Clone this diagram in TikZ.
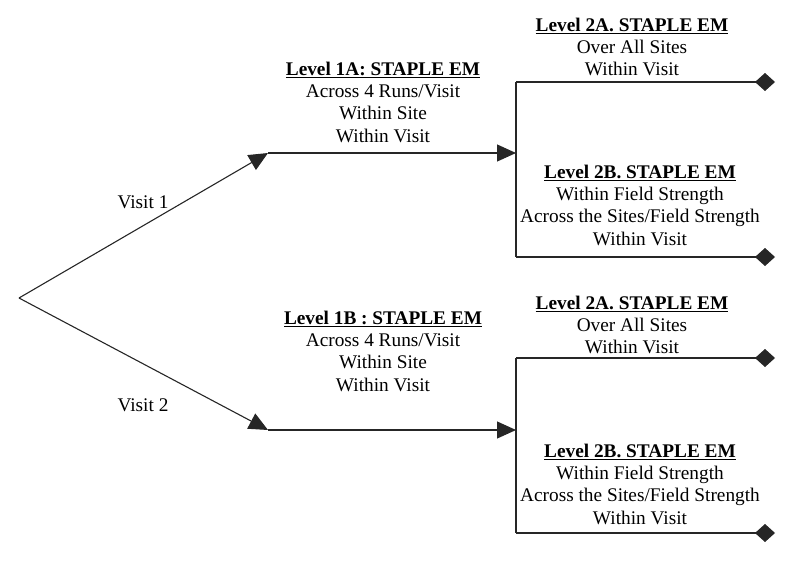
\documentclass[tikz,border=0pt]{standalone}
\usepackage{fontspec}
\setmainfont{Liberation Serif}
\usetikzlibrary{arrows.meta}
\begin{document}
\begin{tikzpicture}[x=1pt,y=1pt,
  conn/.style={line width=1.1pt,draw=black!85},
  tri/.style={conn,-{Triangle[length=19pt,width=17pt]}},
  dia/.style={conn,-{Diamond[length=20pt,width=18pt]}},
  lbl/.style={inner sep=0pt,align=center,font=\fontsize{19.3}{22.3}\selectfont},
  vlbl/.style={inner sep=0pt,font=\fontsize{19.3}{22.3}\selectfont}]
\useasboundingbox (0,0) rectangle (801,-565);
% coordinates
\coordinate (root) at (19,-298);
\coordinate (v1) at (268,-153);
\coordinate (v2) at (268,-430);
\coordinate (j1) at (516,-153);
\coordinate (j2) at (516,-430);
\coordinate (j1t) at (516,-82);
\coordinate (j1b) at (516,-257);
\coordinate (j2t) at (516,-358);
\coordinate (j2b) at (516,-533);
\coordinate (d1a) at (775,-82);
\coordinate (d1b) at (775,-257);
\coordinate (d2a) at (775,-358);
\coordinate (d2b) at (775,-533);
% connectors
\draw[tri] (root) -- (v1);
\draw[tri] (root) -- (v2);
\draw[tri] (v1) -- (j1);
\draw[tri] (v2) -- (j2);
\draw[conn] (j1t) -- (j1b);
\draw[conn] (j2t) -- (j2b);
\draw[dia] (j1t) -- (d1a);
\draw[dia] (j1b) -- (d1b);
\draw[dia] (j2t) -- (d2a);
\draw[dia] (j2b) -- (d2b);
% labels
\node[vlbl] (visit1) at (143,-202) {Visit 1};
\node[vlbl] (visit2) at (143,-405) {Visit 2};
\node[lbl] (l1a) at (383,-102) {\underline{\textbf{Level 1A: STAPLE EM}}\\Across 4 Runs/Visit\\Within Site\\Within Visit};
\node[lbl] (l1b) at (383,-351) {\underline{\textbf{Level 1B : STAPLE EM}}\\Across 4 Runs/Visit\\Within Site\\Within Visit};
\node[lbl] (l2a1) at (632,-47) {\underline{\textbf{Level 2A. STAPLE EM}}\\Over All Sites\\Within Visit};
\node[lbl] (l2b1) at (640,-205) {\underline{\textbf{Level 2B. STAPLE EM}}\\Within Field Strength\\Across the Sites/Field Strength\\Within Visit};
\node[lbl] (l2a2) at (632,-325) {\underline{\textbf{Level 2A. STAPLE EM}}\\Over All Sites\\Within Visit};
\node[lbl] (l2b2) at (640,-484) {\underline{\textbf{Level 2B. STAPLE EM}}\\Within Field Strength\\Across the Sites/Field Strength\\Within Visit};
\end{tikzpicture}
\end{document}
